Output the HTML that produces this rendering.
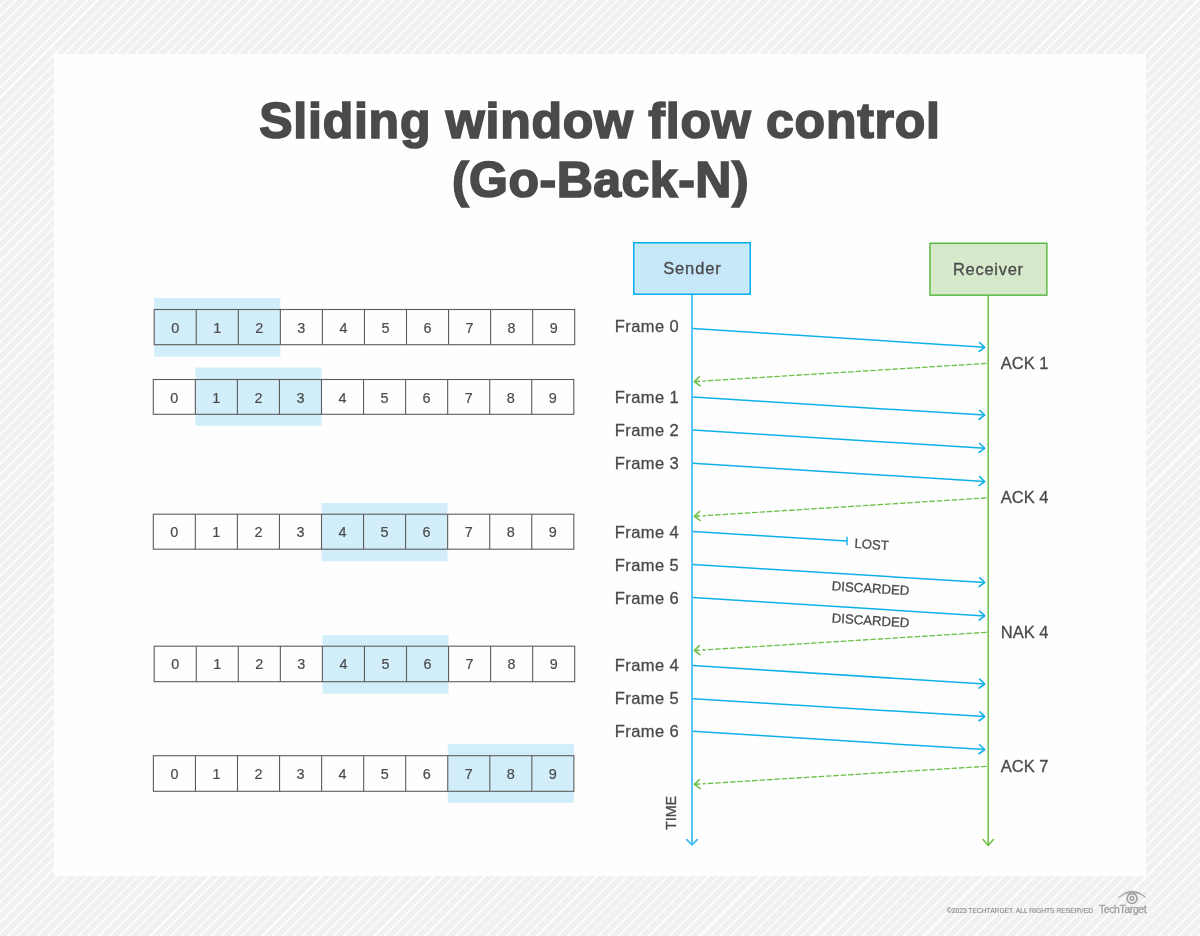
<!DOCTYPE html>
<html><head><meta charset="utf-8"><title>Sliding window flow control (Go-Back-N)</title>
<style>
html,body{margin:0;padding:0;}
body{width:1200px;height:936px;position:relative;overflow:hidden;
 background-color:#f1f1f1;
 background-image:repeating-linear-gradient(-45deg,#fdfdfd 0px,#fdfdfd 1.42px,#f1f1f1 1.42px,#f1f1f1 7.14px,#fdfdfd 7.14px,#fdfdfd 7.202px);
 font-family:"Liberation Sans",sans-serif;}
.panel{position:absolute;left:54px;top:54px;width:1092px;height:822px;background:#fefefe;}
.title{position:absolute;left:0;width:1200px;text-align:center;font-weight:bold;color:#4a4a4c;font-size:50px;line-height:58px;white-space:nowrap;-webkit-text-stroke:1.7px #4a4a4c;}
svg{position:absolute;left:0;top:0;will-change:transform;}
svg text{font-family:"Liberation Sans",sans-serif;fill:#4a4a4c;stroke:#4a4a4c;stroke-width:0.3px;}
.n{font-size:14.4px;stroke-width:0.18px;}
.lb{font-size:16.5px;}
.bx{font-size:16.5px;letter-spacing:0.85px;}
.sm{font-size:13.2px;}
.tm{font-size:14.3px;}
.tt{font-size:10.4px;fill:#a2a2a2;stroke:#a2a2a2;stroke-width:0.35px;letter-spacing:-0.35px;}
.cp{font-size:6.7px;fill:#8c8c8c;stroke:#8c8c8c;stroke-width:0.15px;}
</style></head>
<body>
<div class="panel"></div>
<div class="title" style="top:92.3px;letter-spacing:0.76px;">Sliding window flow control</div>
<div class="title" style="top:151px;letter-spacing:0.5px;left:0.5px;">(Go-Back-N)</div>
<svg width="1200" height="936" viewBox="0 0 1200 936">
<rect x="154.20" y="298.0" width="126.15" height="58.70" fill="#d2eefa"/>
<rect x="195.35" y="367.5" width="126.15" height="58.30" fill="#d2eefa"/>
<rect x="321.50" y="503.0" width="126.15" height="58.20" fill="#d2eefa"/>
<rect x="322.40" y="635.0" width="126.15" height="58.70" fill="#d2eefa"/>
<rect x="447.75" y="744.2" width="126.15" height="58.60" fill="#d2eefa"/>
<rect x="154.20" y="309.5" width="420.50" height="35.20" fill="none" stroke="#5c5c5c" stroke-width="1.1"/>
<line x1="196.25" y1="309.5" x2="196.25" y2="344.7" stroke="#5c5c5c" stroke-width="1.1"/>
<line x1="238.30" y1="309.5" x2="238.30" y2="344.7" stroke="#5c5c5c" stroke-width="1.1"/>
<line x1="280.35" y1="309.5" x2="280.35" y2="344.7" stroke="#5c5c5c" stroke-width="1.1"/>
<line x1="322.40" y1="309.5" x2="322.40" y2="344.7" stroke="#5c5c5c" stroke-width="1.1"/>
<line x1="364.45" y1="309.5" x2="364.45" y2="344.7" stroke="#5c5c5c" stroke-width="1.1"/>
<line x1="406.50" y1="309.5" x2="406.50" y2="344.7" stroke="#5c5c5c" stroke-width="1.1"/>
<line x1="448.55" y1="309.5" x2="448.55" y2="344.7" stroke="#5c5c5c" stroke-width="1.1"/>
<line x1="490.60" y1="309.5" x2="490.60" y2="344.7" stroke="#5c5c5c" stroke-width="1.1"/>
<line x1="532.65" y1="309.5" x2="532.65" y2="344.7" stroke="#5c5c5c" stroke-width="1.1"/>
<text x="175.22" y="332.50" text-anchor="middle" class="n">0</text>
<text x="217.28" y="332.50" text-anchor="middle" class="n">1</text>
<text x="259.32" y="332.50" text-anchor="middle" class="n">2</text>
<text x="301.37" y="332.50" text-anchor="middle" class="n">3</text>
<text x="343.42" y="332.50" text-anchor="middle" class="n">4</text>
<text x="385.47" y="332.50" text-anchor="middle" class="n">5</text>
<text x="427.52" y="332.50" text-anchor="middle" class="n">6</text>
<text x="469.57" y="332.50" text-anchor="middle" class="n">7</text>
<text x="511.62" y="332.50" text-anchor="middle" class="n">8</text>
<text x="553.67" y="332.50" text-anchor="middle" class="n">9</text>
<rect x="153.30" y="379.5" width="420.50" height="34.80" fill="none" stroke="#5c5c5c" stroke-width="1.1"/>
<line x1="195.35" y1="379.5" x2="195.35" y2="414.3" stroke="#5c5c5c" stroke-width="1.1"/>
<line x1="237.40" y1="379.5" x2="237.40" y2="414.3" stroke="#5c5c5c" stroke-width="1.1"/>
<line x1="279.45" y1="379.5" x2="279.45" y2="414.3" stroke="#5c5c5c" stroke-width="1.1"/>
<line x1="321.50" y1="379.5" x2="321.50" y2="414.3" stroke="#5c5c5c" stroke-width="1.1"/>
<line x1="363.55" y1="379.5" x2="363.55" y2="414.3" stroke="#5c5c5c" stroke-width="1.1"/>
<line x1="405.60" y1="379.5" x2="405.60" y2="414.3" stroke="#5c5c5c" stroke-width="1.1"/>
<line x1="447.65" y1="379.5" x2="447.65" y2="414.3" stroke="#5c5c5c" stroke-width="1.1"/>
<line x1="489.70" y1="379.5" x2="489.70" y2="414.3" stroke="#5c5c5c" stroke-width="1.1"/>
<line x1="531.75" y1="379.5" x2="531.75" y2="414.3" stroke="#5c5c5c" stroke-width="1.1"/>
<text x="174.33" y="402.50" text-anchor="middle" class="n">0</text>
<text x="216.38" y="402.50" text-anchor="middle" class="n">1</text>
<text x="258.43" y="402.50" text-anchor="middle" class="n">2</text>
<text x="300.47" y="402.50" text-anchor="middle" class="n">3</text>
<text x="342.52" y="402.50" text-anchor="middle" class="n">4</text>
<text x="384.57" y="402.50" text-anchor="middle" class="n">5</text>
<text x="426.62" y="402.50" text-anchor="middle" class="n">6</text>
<text x="468.67" y="402.50" text-anchor="middle" class="n">7</text>
<text x="510.72" y="402.50" text-anchor="middle" class="n">8</text>
<text x="552.77" y="402.50" text-anchor="middle" class="n">9</text>
<rect x="153.30" y="514.2" width="420.50" height="35.00" fill="none" stroke="#5c5c5c" stroke-width="1.1"/>
<line x1="195.35" y1="514.2" x2="195.35" y2="549.2" stroke="#5c5c5c" stroke-width="1.1"/>
<line x1="237.40" y1="514.2" x2="237.40" y2="549.2" stroke="#5c5c5c" stroke-width="1.1"/>
<line x1="279.45" y1="514.2" x2="279.45" y2="549.2" stroke="#5c5c5c" stroke-width="1.1"/>
<line x1="321.50" y1="514.2" x2="321.50" y2="549.2" stroke="#5c5c5c" stroke-width="1.1"/>
<line x1="363.55" y1="514.2" x2="363.55" y2="549.2" stroke="#5c5c5c" stroke-width="1.1"/>
<line x1="405.60" y1="514.2" x2="405.60" y2="549.2" stroke="#5c5c5c" stroke-width="1.1"/>
<line x1="447.65" y1="514.2" x2="447.65" y2="549.2" stroke="#5c5c5c" stroke-width="1.1"/>
<line x1="489.70" y1="514.2" x2="489.70" y2="549.2" stroke="#5c5c5c" stroke-width="1.1"/>
<line x1="531.75" y1="514.2" x2="531.75" y2="549.2" stroke="#5c5c5c" stroke-width="1.1"/>
<text x="174.33" y="537.20" text-anchor="middle" class="n">0</text>
<text x="216.38" y="537.20" text-anchor="middle" class="n">1</text>
<text x="258.43" y="537.20" text-anchor="middle" class="n">2</text>
<text x="300.47" y="537.20" text-anchor="middle" class="n">3</text>
<text x="342.52" y="537.20" text-anchor="middle" class="n">4</text>
<text x="384.57" y="537.20" text-anchor="middle" class="n">5</text>
<text x="426.62" y="537.20" text-anchor="middle" class="n">6</text>
<text x="468.67" y="537.20" text-anchor="middle" class="n">7</text>
<text x="510.72" y="537.20" text-anchor="middle" class="n">8</text>
<text x="552.77" y="537.20" text-anchor="middle" class="n">9</text>
<rect x="154.20" y="646.2" width="420.50" height="35.50" fill="none" stroke="#5c5c5c" stroke-width="1.1"/>
<line x1="196.25" y1="646.2" x2="196.25" y2="681.7" stroke="#5c5c5c" stroke-width="1.1"/>
<line x1="238.30" y1="646.2" x2="238.30" y2="681.7" stroke="#5c5c5c" stroke-width="1.1"/>
<line x1="280.35" y1="646.2" x2="280.35" y2="681.7" stroke="#5c5c5c" stroke-width="1.1"/>
<line x1="322.40" y1="646.2" x2="322.40" y2="681.7" stroke="#5c5c5c" stroke-width="1.1"/>
<line x1="364.45" y1="646.2" x2="364.45" y2="681.7" stroke="#5c5c5c" stroke-width="1.1"/>
<line x1="406.50" y1="646.2" x2="406.50" y2="681.7" stroke="#5c5c5c" stroke-width="1.1"/>
<line x1="448.55" y1="646.2" x2="448.55" y2="681.7" stroke="#5c5c5c" stroke-width="1.1"/>
<line x1="490.60" y1="646.2" x2="490.60" y2="681.7" stroke="#5c5c5c" stroke-width="1.1"/>
<line x1="532.65" y1="646.2" x2="532.65" y2="681.7" stroke="#5c5c5c" stroke-width="1.1"/>
<text x="175.22" y="669.20" text-anchor="middle" class="n">0</text>
<text x="217.28" y="669.20" text-anchor="middle" class="n">1</text>
<text x="259.32" y="669.20" text-anchor="middle" class="n">2</text>
<text x="301.37" y="669.20" text-anchor="middle" class="n">3</text>
<text x="343.42" y="669.20" text-anchor="middle" class="n">4</text>
<text x="385.47" y="669.20" text-anchor="middle" class="n">5</text>
<text x="427.52" y="669.20" text-anchor="middle" class="n">6</text>
<text x="469.57" y="669.20" text-anchor="middle" class="n">7</text>
<text x="511.62" y="669.20" text-anchor="middle" class="n">8</text>
<text x="553.67" y="669.20" text-anchor="middle" class="n">9</text>
<rect x="153.40" y="755.7" width="420.50" height="35.60" fill="none" stroke="#5c5c5c" stroke-width="1.1"/>
<line x1="195.45" y1="755.7" x2="195.45" y2="791.3" stroke="#5c5c5c" stroke-width="1.1"/>
<line x1="237.50" y1="755.7" x2="237.50" y2="791.3" stroke="#5c5c5c" stroke-width="1.1"/>
<line x1="279.55" y1="755.7" x2="279.55" y2="791.3" stroke="#5c5c5c" stroke-width="1.1"/>
<line x1="321.60" y1="755.7" x2="321.60" y2="791.3" stroke="#5c5c5c" stroke-width="1.1"/>
<line x1="363.65" y1="755.7" x2="363.65" y2="791.3" stroke="#5c5c5c" stroke-width="1.1"/>
<line x1="405.70" y1="755.7" x2="405.70" y2="791.3" stroke="#5c5c5c" stroke-width="1.1"/>
<line x1="447.75" y1="755.7" x2="447.75" y2="791.3" stroke="#5c5c5c" stroke-width="1.1"/>
<line x1="489.80" y1="755.7" x2="489.80" y2="791.3" stroke="#5c5c5c" stroke-width="1.1"/>
<line x1="531.85" y1="755.7" x2="531.85" y2="791.3" stroke="#5c5c5c" stroke-width="1.1"/>
<text x="174.43" y="778.70" text-anchor="middle" class="n">0</text>
<text x="216.47" y="778.70" text-anchor="middle" class="n">1</text>
<text x="258.52" y="778.70" text-anchor="middle" class="n">2</text>
<text x="300.57" y="778.70" text-anchor="middle" class="n">3</text>
<text x="342.62" y="778.70" text-anchor="middle" class="n">4</text>
<text x="384.67" y="778.70" text-anchor="middle" class="n">5</text>
<text x="426.72" y="778.70" text-anchor="middle" class="n">6</text>
<text x="468.77" y="778.70" text-anchor="middle" class="n">7</text>
<text x="510.82" y="778.70" text-anchor="middle" class="n">8</text>
<text x="552.88" y="778.70" text-anchor="middle" class="n">9</text>
<line x1="692.0" y1="295" x2="692.0" y2="845" stroke="#3bbcf0" stroke-width="1.7"/>
<polyline points="686.8,839.6 692.0,845 697.2,839.6" fill="none" stroke="#3bbcf0" stroke-width="1.7" stroke-linecap="round" stroke-linejoin="round"/>
<line x1="988.2" y1="295.5" x2="988.2" y2="845.5" stroke="#6cbf48" stroke-width="1.5"/>
<polyline points="983,839.6 988.2,845.5 993.4,839.6" fill="none" stroke="#6cbf48" stroke-width="1.5" stroke-linecap="round" stroke-linejoin="round"/>
<rect x="633.75" y="242.75" width="116.5" height="51.5" fill="#c6e8f8" stroke="#08aeea" stroke-width="1.5"/>
<text x="692.4" y="274.2" text-anchor="middle" class="bx">Sender</text>
<rect x="929.95" y="243.25" width="116.9" height="51.9" fill="#d7e9cb" stroke="#5cb846" stroke-width="1.5"/>
<text x="988.4" y="275" text-anchor="middle" class="bx" style="letter-spacing:0.72px">Receiver</text>
<line x1="692.8" y1="328.6" x2="984.7" y2="347.3" stroke="#0fb0ea" stroke-width="1.5"/><polyline points="979.06,351.45 984.7,347.3 979.64,342.47" fill="none" stroke="#0fb0ea" stroke-width="1.6" stroke-linecap="round" stroke-linejoin="round"/>
<line x1="692.8" y1="397.1" x2="984.7" y2="415.1" stroke="#0fb0ea" stroke-width="1.5"/><polyline points="979.07,419.26 984.7,415.1 979.62,410.28" fill="none" stroke="#0fb0ea" stroke-width="1.6" stroke-linecap="round" stroke-linejoin="round"/>
<line x1="692.8" y1="430.0" x2="984.7" y2="448.3" stroke="#0fb0ea" stroke-width="1.5"/><polyline points="979.07,452.46 984.7,448.3 979.63,443.47" fill="none" stroke="#0fb0ea" stroke-width="1.6" stroke-linecap="round" stroke-linejoin="round"/>
<line x1="692.8" y1="463.3" x2="984.7" y2="481.5" stroke="#0fb0ea" stroke-width="1.5"/><polyline points="979.07,485.66 984.7,481.5 979.63,476.68" fill="none" stroke="#0fb0ea" stroke-width="1.6" stroke-linecap="round" stroke-linejoin="round"/>
<line x1="692.8" y1="564.4" x2="984.7" y2="582.5" stroke="#0fb0ea" stroke-width="1.5"/><polyline points="979.07,586.66 984.7,582.5 979.63,577.68" fill="none" stroke="#0fb0ea" stroke-width="1.6" stroke-linecap="round" stroke-linejoin="round"/>
<line x1="692.8" y1="597.6" x2="984.7" y2="615.9" stroke="#0fb0ea" stroke-width="1.5"/><polyline points="979.07,620.06 984.7,615.9 979.63,611.07" fill="none" stroke="#0fb0ea" stroke-width="1.6" stroke-linecap="round" stroke-linejoin="round"/>
<line x1="692.8" y1="665.5" x2="984.7" y2="684.0" stroke="#0fb0ea" stroke-width="1.5"/><polyline points="979.06,688.15 984.7,684.0 979.63,679.17" fill="none" stroke="#0fb0ea" stroke-width="1.6" stroke-linecap="round" stroke-linejoin="round"/>
<line x1="692.8" y1="698.7" x2="984.7" y2="716.6" stroke="#0fb0ea" stroke-width="1.5"/><polyline points="979.07,720.76 984.7,716.6 979.62,711.78" fill="none" stroke="#0fb0ea" stroke-width="1.6" stroke-linecap="round" stroke-linejoin="round"/>
<line x1="692.8" y1="731.3" x2="984.7" y2="749.6" stroke="#0fb0ea" stroke-width="1.5"/><polyline points="979.07,753.76 984.7,749.6 979.63,744.77" fill="none" stroke="#0fb0ea" stroke-width="1.6" stroke-linecap="round" stroke-linejoin="round"/>
<line x1="692.8" y1="531.5" x2="847.0" y2="541.0" stroke="#0fb0ea" stroke-width="1.5"/><line x1="847.0" y1="536.8" x2="847.0" y2="545.2" stroke="#0fb0ea" stroke-width="1.4"/>
<line x1="986.6" y1="363.4" x2="702.40" y2="381.10" stroke="#6cbf48" stroke-width="1.3" stroke-dasharray="5.6 1.8"/><polyline points="699.47,376.78 694.4,381.6 700.03,385.76" fill="none" stroke="#6cbf48" stroke-width="1.6" stroke-linecap="round" stroke-linejoin="round"/><line x1="694.9" y1="381.6" x2="700.00" y2="381.25" stroke="#6cbf48" stroke-width="1.4"/>
<line x1="986.6" y1="497.9" x2="702.40" y2="515.80" stroke="#6cbf48" stroke-width="1.3" stroke-dasharray="5.6 1.8"/><polyline points="699.47,511.47 694.4,516.3 700.03,520.45" fill="none" stroke="#6cbf48" stroke-width="1.6" stroke-linecap="round" stroke-linejoin="round"/><line x1="694.9" y1="516.3" x2="700.00" y2="515.95" stroke="#6cbf48" stroke-width="1.4"/>
<line x1="986.6" y1="632.3" x2="702.40" y2="650.00" stroke="#6cbf48" stroke-width="1.3" stroke-dasharray="5.6 1.8"/><polyline points="699.47,645.68 694.4,650.5 700.03,654.66" fill="none" stroke="#6cbf48" stroke-width="1.6" stroke-linecap="round" stroke-linejoin="round"/><line x1="694.9" y1="650.5" x2="700.00" y2="650.15" stroke="#6cbf48" stroke-width="1.4"/>
<line x1="986.6" y1="766.3" x2="702.40" y2="783.81" stroke="#6cbf48" stroke-width="1.3" stroke-dasharray="5.6 1.8"/><polyline points="699.48,779.48 694.4,784.3 700.03,788.46" fill="none" stroke="#6cbf48" stroke-width="1.6" stroke-linecap="round" stroke-linejoin="round"/><line x1="694.9" y1="784.3" x2="700.00" y2="783.96" stroke="#6cbf48" stroke-width="1.4"/>
<text x="614.8" y="331.80" class="lb" style="letter-spacing:0.4px">Frame 0</text>
<text x="614.8" y="403.00" class="lb" style="letter-spacing:0.4px">Frame 1</text>
<text x="614.8" y="436.10" class="lb" style="letter-spacing:0.4px">Frame 2</text>
<text x="614.8" y="469.00" class="lb" style="letter-spacing:0.4px">Frame 3</text>
<text x="614.8" y="538.00" class="lb" style="letter-spacing:0.4px">Frame 4</text>
<text x="614.8" y="571.00" class="lb" style="letter-spacing:0.4px">Frame 5</text>
<text x="614.8" y="604.00" class="lb" style="letter-spacing:0.4px">Frame 6</text>
<text x="614.8" y="671.00" class="lb" style="letter-spacing:0.4px">Frame 4</text>
<text x="614.8" y="704.00" class="lb" style="letter-spacing:0.4px">Frame 5</text>
<text x="614.8" y="737.00" class="lb" style="letter-spacing:0.4px">Frame 6</text>
<text x="1000.8" y="368.80" class="lb">ACK 1</text>
<text x="1000.8" y="502.90" class="lb">ACK 4</text>
<text x="1000.8" y="638.00" class="lb">NAK 4</text>
<text x="1000.8" y="771.80" class="lb">ACK 7</text>
<text transform="translate(854.2 547.8) rotate(3.63)" class="sm">LOST</text>
<text transform="translate(831.5 590.3) rotate(3.63)" class="sm">DISCARDED</text>
<text transform="translate(831.5 622.5) rotate(3.63)" class="sm">DISCARDED</text>
<text transform="translate(676.1 830) rotate(-90)" class="tm">TIME</text>
<path d="M1118.2 897.8 Q1132 884.3 1146.1 897.5 Q1132 887.6 1118.2 897.8 Z" fill="#a0a0a0" stroke="#a0a0a0" stroke-width="0.6" stroke-linejoin="round"/><circle cx="1145.4" cy="893.3" r="0.5" fill="#a0a0a0"/>
<circle cx="1132" cy="898.4" r="4.9" fill="none" stroke="#a0a0a0" stroke-width="1.8"/>
<circle cx="1132" cy="898.4" r="1.8" fill="none" stroke="#a0a0a0" stroke-width="1.5"/>
<text x="1099" y="912.8" class="tt">TechTarget</text>
<text x="946.8" y="912.9" class="cp">©2023 TECHTARGET. ALL RIGHTS RESERVED</text>
</svg>
</body></html>
